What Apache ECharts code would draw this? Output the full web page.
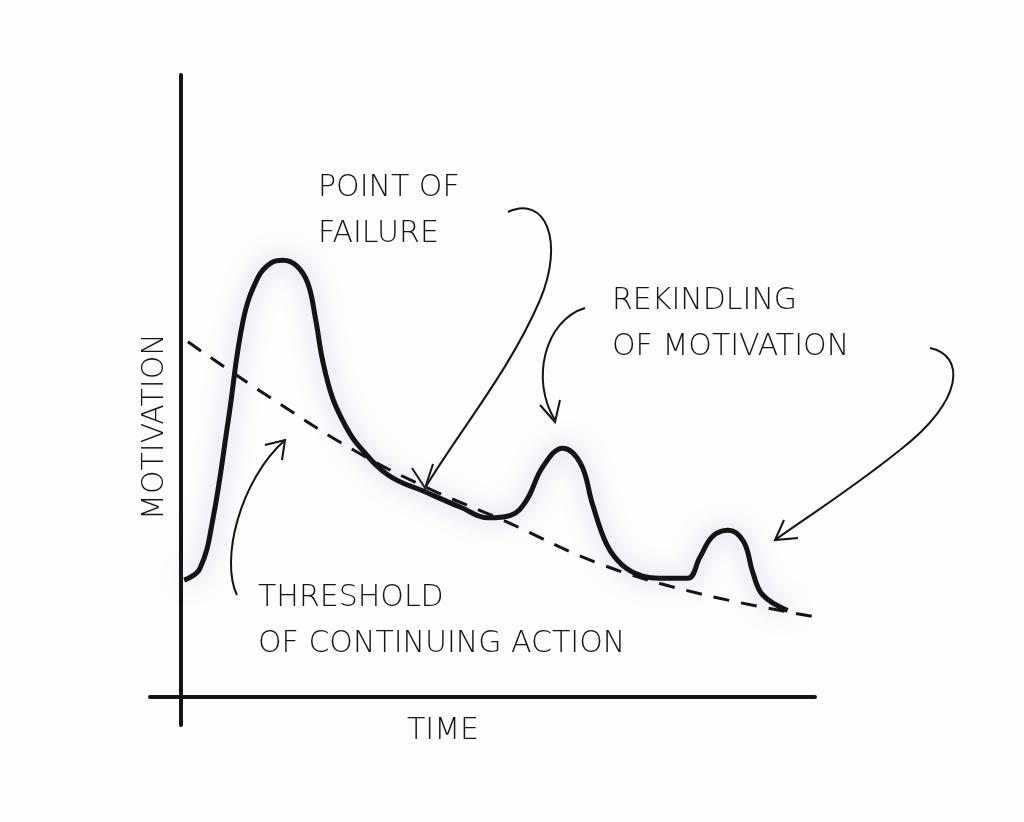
<!DOCTYPE html>
<html>
<head>
<meta charset="utf-8">
<script src="https://cdn.jsdelivr.net/npm/echarts@6/dist/echarts.min.js"></script>
<style>html,body{margin:0;background:#fdfdfb}#main{width:1024px;height:822px}</style>
</head>
<body>
<div id="main"></div>
<script>
// motivation curve (time, motivation)
var curveX = [0.5, 3, 5.1, 7.6, 10, 12.4, 14.5, 16.4, 18.6, 20.4, 21.6, 22.8, 24.4, 26.5, 28.5, 33.3, 39.7, 45, 49.4, 53, 55.5, 58.2, 61.4, 64.3, 66.2, 68.5, 71, 74, 77, 81.5, 83.5, 85.5, 88, 90.5, 92, 93.6, 97.6];
var curveY = [18.8, 20.6, 28.5, 44.5, 60.6, 67.5, 69.8, 70.2, 69.3, 66.5, 61, 54, 48, 43.5, 40.5, 35.7, 32.8, 30.5, 28.8, 29.2, 31.5, 37, 40, 37.5, 31, 24.5, 21.2, 19.5, 19.1, 19.1, 22.5, 25.8, 26.8, 25, 20, 16.4, 13.9];
// threshold of continuing action (dashed)
var thresholdX = [1.1, 15.9, 28.8, 40.1, 51.4, 67.4, 83.5, 102];
var thresholdY = [57.1, 47.1, 39.1, 33.4, 28.6, 21.4, 16.6, 12.9];

var ink = '#141414';
var font = '"DejaVu Sans", sans-serif';

function pairs(xs, ys) {
	var out = [];
	for (var i = 0; i < xs.length; i++) out.push([xs[i], ys[i]]);
	return out;
}

function label(x, y, text, rot) {
	return {
		type : 'text', x : x, y : y, rotation : rot || 0,
		style : { text : text, fill : ink, font : '300 30px ' + font, lineHeight : 46 }
	};
}

// c = list of [x1,y1,cpx1,cpy1,cpx2,cpy2,x2,y2]; tip = arrowhead points
function arrow(c, tip) {
	var out = [];
	for (var i = 0; i < c.length; i++) {
		var s = c[i];
		out.push({
			type : 'bezierCurve',
			shape : { x1 : s[0], y1 : s[1], cpx1 : s[2], cpy1 : s[3], cpx2 : s[4], cpy2 : s[5], x2 : s[6], y2 : s[7] },
			style : { stroke : ink, lineWidth : 2, fill : null }
		});
	}
	out.push({
		type : 'polyline', shape : { points : tip },
		style : { stroke : ink, lineWidth : 2, fill : null }
	});
	return out;
}

var chart = echarts.init(document.getElementById('main'));
chart.setOption({
	backgroundColor : '#fdfdfb',
	animation : false,
	grid : { left : 150, right : 209, top : 75, bottom : 97 },
	xAxis : {
		type : 'value', min : -5, max : 102,
		axisLine : { onZero : true, lineStyle : { color : ink, width : 4 } },
		axisTick : { show : false }, axisLabel : { show : false }, splitLine : { show : false }
	},
	yAxis : {
		type : 'value', min : -4.5, max : 100,
		axisLine : { show : true, onZero : true, lineStyle : { color : ink, width : 4 } },
		axisTick : { show : false }, axisLabel : { show : false }, splitLine : { show : false }
	},
	series : [{
		type : 'line', smooth : 0.4, symbol : 'none',
		data : pairs(curveX, curveY),
		lineStyle : { color : ink, width : 5, shadowColor : 'rgba(120,135,225,0.55)', shadowBlur : 22 }
	}, {
		type : 'line', smooth : 0.4, symbol : 'none',
		data : pairs(thresholdX, thresholdY),
		lineStyle : { color : ink, width : 3, type : [16, 12] }
	}],
	graphic : [
		label(318, 165, 'POINT OF\nFAILURE'),
		label(612, 278, 'REKINDLING\nOF MOTIVATION'),
		label(258, 575, 'THRESHOLD\nOF CONTINUING ACTION'),
		label(407, 708, 'TIME'),
		label(132, 520, 'MOTIVATION', Math.PI / 2)
	].concat(
		arrow([[508, 212, 545, 195, 565, 240, 540, 300], [540, 300, 510, 370, 460, 430, 425, 488]], [[412, 468], [425, 488], [433, 464]]),
		arrow([[585, 308, 545, 320, 530, 380, 555, 420]], [[540, 405], [555, 422], [560, 400]]),
		arrow([[930, 348, 965, 355, 965, 400, 900, 450], [900, 450, 850, 490, 810, 515, 775, 540]], [[784, 520], [775, 540], [798, 538]]),
		arrow([[237, 595, 220, 560, 240, 480, 285, 440]], [[265, 445], [285, 440], [282, 460]])
	)
});
</script>
</body>
</html>
